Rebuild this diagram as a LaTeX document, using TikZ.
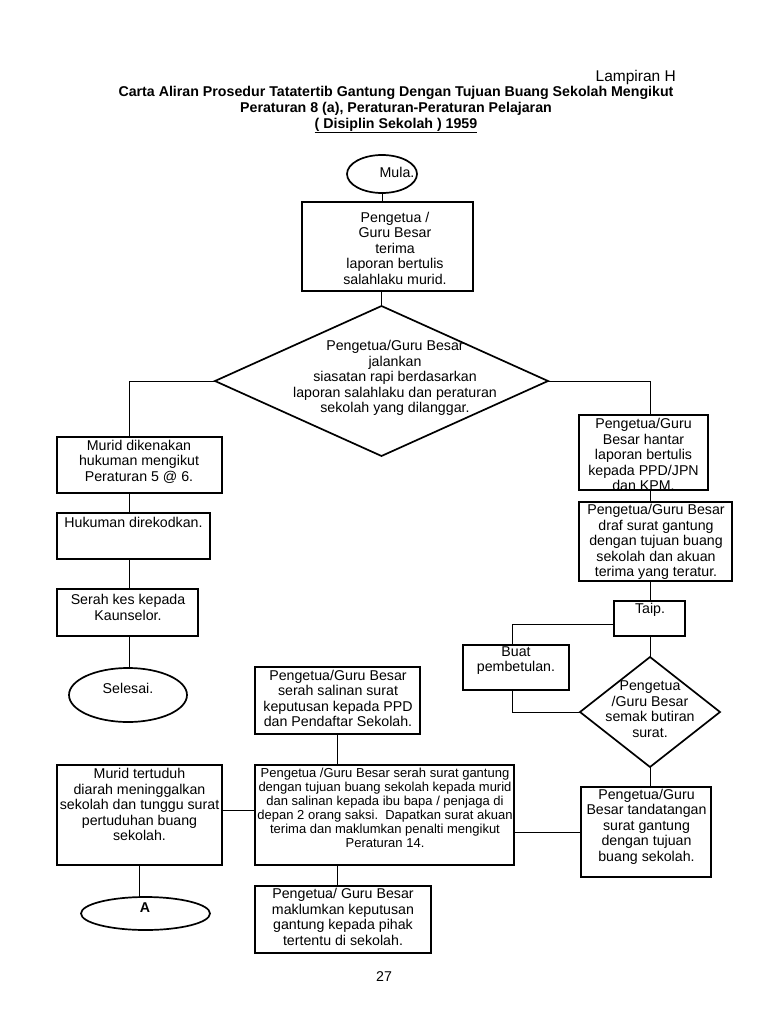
\documentclass[tikz,border=0pt]{standalone}
\usepackage{fontspec}
\setmainfont{Liberation Sans}
\usetikzlibrary{shapes.geometric}
\begin{document}
\begin{tikzpicture}[x=1pt,y=-1pt,
  shp/.style={draw, line width=1.7pt, inner sep=0pt, outer sep=0pt},
  txt/.style={align=center, inner sep=0pt, font=\fontsize{14.2}{15.5}\selectfont},
  smalltxt/.style={align=center, inner sep=0pt, font=\fontsize{13}{14}\selectfont},
  con/.style={line width=1pt}]
\useasboundingbox (0,0) rectangle (768,1024);
\fill[white] (0,0) rectangle (768,1024);

% title
\node[txt, anchor=east, font=\fontsize{15.5}{17}\selectfont] (lamp) at (676,77.5) {Lampiran H};
\node[txt, font=\fontsize{14.2}{16}\selectfont\bfseries] (title) at (396,109.5) {Carta Aliran Prosedur Tatatertib Gantung Dengan Tujuan Buang Sekolah Mengikut\\Peraturan 8 (a), Peraturan-Peraturan Pelajaran\\\underline{( Disiplin Sekolah ) 1959}};

% shapes
\node[shp, ellipse, minimum width=70pt, minimum height=38pt] (mula) at (382,174) {};
\node[shp, rectangle, minimum width=171pt, minimum height=89pt] (b1) at (387.5,246.5) {};
\node[shp, diamond, minimum width=333pt, minimum height=150pt] (d1) at (381.5,381) {};
\node[shp, rectangle, minimum width=165pt, minimum height=56pt] (m1) at (139.5,465) {};
\node[shp, rectangle, minimum width=153pt, minimum height=46pt] (m2) at (133.5,536) {};
\node[shp, rectangle, minimum width=141pt, minimum height=47pt] (m3) at (127.5,612.5) {};
\node[shp, ellipse, minimum width=118pt, minimum height=54pt] (sel) at (128,695) {};
\node[shp, rectangle, minimum width=129pt, minimum height=75pt] (h1) at (643.5,452.5) {};
\node[shp, rectangle, minimum width=153pt, minimum height=79pt] (h2) at (655.5,541.5) {};
\node[shp, rectangle, minimum width=71pt, minimum height=35pt] (taip) at (649.5,618.5) {};
\node[shp, rectangle, minimum width=106pt, minimum height=45pt] (buat) at (516,667.5) {};
\node[shp, diamond, minimum width=140pt, minimum height=110pt] (d2) at (650,712) {};
\node[shp, rectangle, minimum width=130pt, minimum height=90pt] (t1) at (646,832) {};
\node[shp, rectangle, minimum width=259pt, minimum height=100pt] (main) at (384.5,815) {};
\node[shp, rectangle, minimum width=165pt, minimum height=67pt] (sal) at (337.5,700.5) {};
\node[shp, rectangle, minimum width=176pt, minimum height=67pt] (bot) at (343,919.5) {};
\node[shp, rectangle, minimum width=165pt, minimum height=100pt] (mt) at (139.5,815) {};
\node[shp, ellipse, minimum width=129pt, minimum height=33pt] (A) at (145.5,913.5) {};

% texts
\node[txt] (mulat) at (397,172) {Mula.};
\node[txt] (b1t) at (395,248) {Pengetua /\\Guru Besar\\terima\\laporan bertulis\\salahlaku murid.};
\node[txt] (d1t) at (395,378) {Pengetua/Guru Besar\\jalankan\\siasatan rapi berdasarkan\\laporan salahlaku dan peraturan\\sekolah yang dilanggar.};
\node[txt] (m1t) at (139,461.5) {Murid dikenakan\\hukuman mengikut\\Peraturan 5 @ 6.};
\node[txt] (m2t) at (133.5,522) {Hukuman direkodkan.};
\node[txt] (m3t) at (128,607.5) {Serah kes kepada\\Kaunselor.};
\node[txt] (selt) at (128,688) {Selesai.};
\node[txt] (h1t) at (643.5,454.5) {Pengetua/Guru\\Besar hantar\\laporan bertulis\\kepada PPD/JPN\\dan KPM.};
\node[txt] (h2t) at (656,542) {Pengetua/Guru Besar\\draf surat gantung\\dengan tujuan buang\\sekolah dan akuan\\terima yang teratur.};
\node[txt] (taipt) at (650,610) {Taip.};
\node[txt] (buatt) at (516,660.5) {Buat\\pembetulan.};
\node[txt] (d2t) at (650,709) {Pengetua\\/Guru Besar\\semak butiran\\surat.};
\node[txt] (t1t) at (646.5,826.5) {Pengetua/Guru\\Besar tandatangan\\surat gantung\\dengan tujuan\\buang sekolah.};
\node[smalltxt] (maint) at (385,808) {Pengetua /Guru Besar serah surat gantung\\dengan tujuan buang sekolah kepada murid\\dan salinan kepada ibu bapa / penjaga di\\depan 2 orang saksi.\ \ Dapatkan surat akuan\\terima dan maklumkan penalti mengikut\\Peraturan 14.};
\node[txt] (salt) at (338,698.5) {Pengetua/Guru Besar\\serah salinan surat\\keputusan kepada PPD\\dan Pendaftar Sekolah.};
\node[txt] (bott) at (343,917) {Pengetua/ Guru Besar\\maklumkan keputusan\\gantung kepada pihak\\tertentu di sekolah.};
\node[txt] (mtt) at (139.5,804.5) {Murid tertuduh\\diarah meninggalkan\\sekolah dan tunggu surat\\pertuduhan buang\\sekolah.};
\node[txt, font=\fontsize{14.2}{15.5}\selectfont\bfseries] (At) at (145,908) {A};
\node[txt] (page) at (384,977) {27};

% connectors
\coordinate (ls) at (129,0);
\coordinate (rs) at (650,0);
\coordinate (bx) at (512,0);
\draw[con] (mula.south) -- (b1.north -| mula.south);
\draw[con] (b1.south -| d1.north) -- (d1.north);
\draw[con] (d1.west) -| (m1.north -| ls);
\draw[con] (m1.south -| ls) -- (m2.north -| ls);
\draw[con] (m2.south -| ls) -- (m3.north -| ls);
\draw[con] (m3.south -| ls) -- (sel.north -| ls);
\draw[con] (d1.east) -| (h1.north -| rs);
\draw[con] (h1.south -| rs) -- (h2.north -| rs);
\draw[con] (h2.south -| rs) -- (taip.north -| rs);
\draw[con] (taip.south -| rs) -- (d2.north);
\draw[con] ([yshift=-5.5pt]taip.west) -| (buat.north -| bx);
\draw[con] (buat.south -| bx) |- (d2.west);
\draw[con] (d2.south) -- (t1.north -| d2.south);
\draw[con] (t1.west) -- (t1.west -| main.east);
\draw[con] (sal.south) -- (main.north -| sal.south);
\draw[con] (main.south -| sal.south) -- (bot.north -| sal.south);
\draw[con] ([yshift=5pt]mt.east) -- ([yshift=5pt]mt.east -| main.west);
\draw[con] (mt.south) -- (A.north -| mt.south);
\end{tikzpicture}
\end{document}
